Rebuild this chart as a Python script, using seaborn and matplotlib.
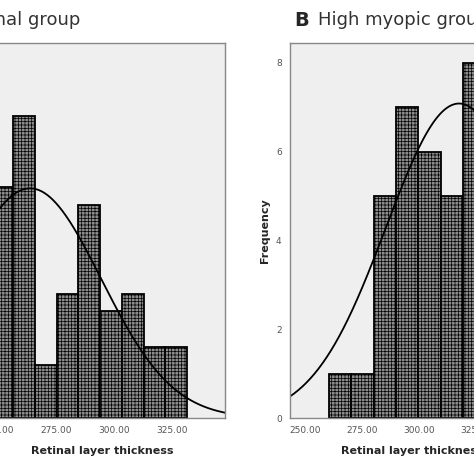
import numpy as np
import matplotlib
matplotlib.use("Agg")
import matplotlib.pyplot as plt
import seaborn as sns

sns.set_style("white")
plt.rcParams['hatch.color'] = '#3a3a3a'
plt.rcParams['hatch.linewidth'] = 0.5

# Panel A (Normal group)
a_edges = [228.55, 237.9, 247.25, 256.6, 265.95, 275.3, 284.65, 294.0, 303.35, 312.7, 322.05, 331.4]
a_counts = [6, 10, 13, 17, 3, 7, 12, 6, 7, 4, 4]
a_mean, a_sd, a_n = 263.8, 30.6, 106
# Panel B (High myopic group)
b_edges = [260.5, 270.3, 280.1, 289.9, 299.7, 309.5, 319.3, 329.1, 338.9, 348.7]
b_counts = [1, 1, 5, 7, 6, 5, 8, 5, 3]
b_mean, b_sd, b_n = 317.5, 32.0, 58
xticks = [250, 275, 300, 325]
bticks = [0, 2, 4, 6, 8]

fig = plt.figure(figsize=(4.74, 4.74), dpi=100)
W = 474.0
axA = fig.add_axes([-20/W, 56/W, 245/W, 375/W])
axB = fig.add_axes([290/W, 56/W, 245/W, 375/W])

def panel(ax, edges, counts, mean, sd, n, xlim, ylim):
    ax.set_facecolor('#efefef')
    centers = [(edges[i] + edges[i+1]) / 2 for i in range(len(counts))]
    sns.histplot(x=centers, weights=counts, bins=edges, ax=ax,
                 color='#8c8c8c', edgecolor='black', linewidth=1.3,
                 alpha=1, hatch='+++++')
    xs = np.linspace(xlim[0], xlim[1], 300)
    w = edges[1] - edges[0]
    ys = n * w / (sd * np.sqrt(2 * np.pi)) * np.exp(-(xs - mean) ** 2 / (2 * sd ** 2))
    ax.plot(xs, ys, color='black', lw=1.3)
    ax.set_xlim(*xlim)
    ax.set_ylim(*ylim)
    ax.set_xticks(xticks)
    ax.set_xticklabels([f"{t:.2f}" for t in xticks], fontsize=6.5, color='#555555')
    for s in ax.spines.values():
        s.set_color('#888888')
        s.set_linewidth(1)
    ax.tick_params(length=3, color='#888888', pad=3)
    ax.set_xlabel('Retinal layer thickness', fontsize=8, fontweight='bold', labelpad=8)
    ax.set_ylabel('Frequency', fontsize=8, fontweight='bold')

panel(axA, a_edges, a_counts, a_mean, a_sd, a_n, (242.2, 347.8), (0, 21.1))
panel(axB, b_edges, b_counts, b_mean, b_sd, b_n, (243.4, 350.8), (0, 8.45))
axA.set_yticks([0, 5, 10, 15, 20])
axB.set_yticks(bticks)
axB.set_yticklabels([str(t) for t in bticks], fontsize=6.5, color='#555555')

fig.text(80/W, 1 - 20/W, 'A  Normal group', ha='right', va='center', fontsize=13, color='#333333')
fig.text(294/W, 1 - 20/W, 'B', ha='left', va='center', fontsize=14, fontweight='bold')
fig.text(318/W, 1 - 20/W, 'High myopic group', ha='left', va='center', fontsize=13, color='#333333')

fig.savefig('out.png', dpi=100)
